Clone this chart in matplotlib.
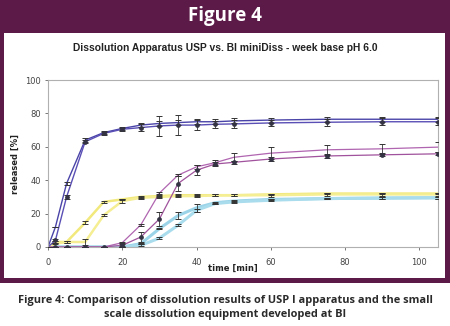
import matplotlib
matplotlib.use("Agg")
import matplotlib.pyplot as plt
from matplotlib.patches import Rectangle

# time points [min]
time = [0, 2, 5, 10, 15, 20, 25, 30, 35, 40, 45, 50, 60, 75, 90, 105]

# released [%] - USP / miniDiss
blue_a = [0, 12, 38, 64, 68.5, 71, 73, 74, 74.5, 75, 75, 75.5, 76, 76.5, 76.5, 76.5]
blue_a_err = [0, 0, 1, 1, 1, 1, 1, 1.5, 1.5, 1.5, 1.5, 1.5, 1.5, 1.5, 1.5, 1.5]
blue_b = [0, 4, 30, 63, 68, 70.5, 71.5, 72.5, 73, 73, 73.5, 73.7, 74.3, 74.7, 75, 75]
blue_b_err = [0, 0.5, 1, 1, 1, 1, 2, 6, 6, 3, 2, 2.5, 2, 2, 2, 2]

pink_c = [0, 0, 0, 0, 0, 2.6, 13.3, 32.3, 43, 48, 50.5, 53.7, 56.2, 58.2, 58.8, 59.8]
pink_c_err = [0, 0, 0, 0, 0, 0.5, 0.5, 0.5, 0.5, 1, 1.5, 2.5, 3.5, 3, 3, 3]
pink_d = [0, 0, 0, 0, 0, 1, 6, 16.8, 38, 46, 49.7, 50.7, 52.7, 54.5, 55.2, 55.8]
pink_d_err = [0, 0, 0, 0, 0, 0.5, 3, 4, 4.5, 3, 1, 1, 1, 1, 1, 1]

yellow_e = [0, 3, 3, 14.5, 27, 28.5, 30, 30.5, 31, 31, 31, 31, 31.5, 32, 32, 32]
yellow_e_err = [0, 0.5, 0.5, 1, 0.5, 0.5, 0.5, 0.5, 0.5, 0.5, 0.5, 0.5, 0.5, 0.5, 0.5, 0.5]
yellow_f = [0, 2, 3, 3, 19, 27.5, 29.5, 30, 30.5, 30.5, 31, 31, 31, 31.5, 31.5, 31.5]
yellow_f_err = [0, 0.5, 0.5, 2, 0.5, 1, 0.5, 0.5, 0.5, 0.5, 0.5, 0.5, 1, 1, 1, 1]

cyan_g = [0, 0, 0, 0, 0, 0, 2, 11, 18.8, 23.5, 26.5, 27.5, 28.5, 29, 29.3, 29.5]
cyan_g_err = [0, 0, 0, 0, 0, 0, 0.5, 0.5, 2, 2.5, 0.5, 0.5, 0.5, 0.5, 0.5, 0.5]
cyan_h = [0, 0, 0, 0, 0, 0, 1, 5.3, 13, 22, 26, 27, 28, 29, 29.3, 29.5]
cyan_h_err = [0, 0, 0, 0, 0, 0, 0.5, 0.5, 0.5, 1, 0.5, 0.5, 0.5, 0.5, 0.5, 0.5]

x_ticks = [0, 20, 40, 60, 80, 100]
y_ticks = [0, 20, 40, 60, 80, 100]

purple = "#5b1a48"

fig = plt.figure(figsize=(4.5, 3.26), dpi=100, facecolor="white")
W, H = 450, 326


def box(x0, y0, x1, y1, color):
    # pixel coordinates from the top-left corner
    fig.patches.append(Rectangle((x0 / W, 1 - y1 / H), (x1 - x0) / W, (y1 - y0) / H,
                                 transform=fig.transFigure, facecolor=color,
                                 edgecolor="none", zorder=-5))


box(0, 0, 450, 282.5, purple)
box(4, 33.3, 445, 278.3, "white")

fig.text(0.5, 1 - 16 / H, "Figure 4", color="white", ha="center", va="center",
         fontsize=13.5, fontweight="bold", family=["Open Sans", "DejaVu Sans"])
fig.text(0.5, 1 - 48 / H, "Dissolution Apparatus USP vs. BI miniDiss - week base pH 6.0",
         ha="center", va="center", fontsize=7.4, fontweight="bold", color="#222222",
         family=["Liberation Sans", "DejaVu Sans"])
fig.text(0.5, 1 - 300 / H, "Figure 4: Comparison of dissolution results of USP I apparatus and the small",
         ha="center", va="center", fontsize=7.9, fontweight="bold", color="#2a2a2a",
         family=["Open Sans", "DejaVu Sans"])
fig.text(0.5, 1 - 315 / H, "scale dissolution equipment developed at BI",
         ha="center", va="center", fontsize=7.9, fontweight="bold", color="#2a2a2a",
         family=["Open Sans", "DejaVu Sans"])

ax = fig.add_axes([48 / W, 1 - 247 / H, (438 - 48) / W, (247 - 80) / H])
ax.set_facecolor("white")

series = [
    (cyan_g, cyan_g_err, "#9bd4e8", 2.2, None),
    (cyan_h, cyan_h_err, "#a9dcec", 2.2, None),
    (yellow_e, yellow_e_err, "#f2e97c", 1.8, None),
    (yellow_f, yellow_f_err, "#f5ee92", 1.8, None),
    (pink_c, pink_c_err, "#b065b0", 0.9, None),
    (pink_d, pink_d_err, "#a0529c", 0.9, "o"),
    (blue_a, blue_a_err, "#4a44a8", 1.0, None),
    (blue_b, blue_b_err, "#5a4fb5", 1.0, "o"),
]
for vals, err, col, lw, mk in series:
    ax.plot(time, vals, color=col, lw=lw, zorder=2)
    ax.errorbar(time, vals, yerr=err, fmt="none", ecolor="#333333", elinewidth=0.6,
                capsize=2.2, capthick=0.7, zorder=3)
    if mk:
        ax.plot(time[1:], vals[1:], ls="none", marker=mk, ms=2.4, color="#333344", zorder=4)

ax.set_xlim(0, 105)
ax.set_ylim(0, 100)
ax.set_xticks(x_ticks)
ax.set_yticks(y_ticks)
ax.tick_params(labelsize=6, colors="#444444", length=2, width=0.5, pad=6)
ax.tick_params(axis="y", pad=3)
for s in ax.spines.values():
    s.set_color("#b0b0b0")
    s.set_linewidth(0.8)
ax.set_ylabel("released [%]", fontsize=6, fontweight="bold", labelpad=4, color="#222222")
# axis title sits between the 40 and 60 tick labels, as in the original
fig.text(233 / W, 1 - 268 / H, "time [min]", ha="center", va="center", fontsize=6,
         fontweight="bold", color="#222222")

fig.savefig("out.png", dpi=100, facecolor="white")
